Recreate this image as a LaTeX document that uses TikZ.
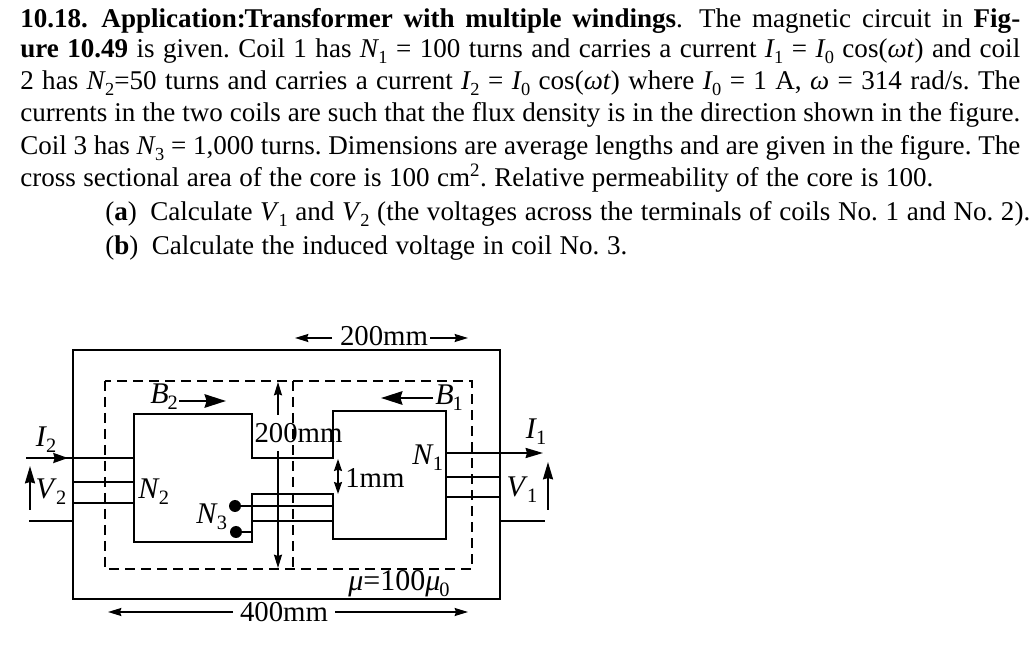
\documentclass[tikz,border=0pt]{standalone}
\usepackage{fontspec}
\usepackage{graphicx}
\setmainfont{Liberation Serif}
\usetikzlibrary{arrows.meta}
\newcommand\dn[1]{\kern-0.03em\raisebox{-0.2em}{\scalebox{0.68}{#1}}}
\newcommand\vr[2]{\textit{#1}\dn{#2}}
\newcommand\tline[5]{\node[para,anchor=base west] (#1) at (#2,#3) {\frenchspacing\makebox[\dimexpr #4pt*3/4\relax][s]{#5}};}
\tikzset{
  core/.style={line width=1.7pt,line join=miter},
  wire/.style={line width=1.6pt},
  thinwire/.style={line width=1.4pt},
  flux/.style={line width=1.4pt,dash pattern=on 7.5pt off 4.5pt},
  dim/.style={line width=1.2pt,-{Stealth[length=10pt,width=6pt,inset=1pt]}},
  bigarrow/.style={line width=2pt,-{Stealth[length=16pt,width=10pt,inset=1.5pt]}},
  vltarrow/.style={line width=1.5pt,-{Stealth[length=13pt,width=7.5pt,inset=1pt]}},
  para/.style={inner sep=0pt,font=\fontsize{20.3}{22}\selectfont},
  lab/.style={inner sep=0pt,font=\fontsize{22.5}{24}\selectfont},
  dimlab/.style={inner sep=0pt,font=\fontsize{21.6}{24}\selectfont},
  dot/.style={circle,fill=black,inner sep=0pt,minimum size=9pt}
}
\begin{document}
\begin{tikzpicture}[x=0.75pt,y=-0.75pt]
\useasboundingbox (0,0) rectangle (1036,666);
\tline{l1}{20}{28}{1000}{\textbf{10.18.\hspace{0.5em}Application:\kern-1pt Transformer with multiple windings}.\hspace{0.6em}The magnetic circuit in \textbf{Fig-}}
\tline{l2}{20}{58}{1000}{\textbf{ure 10.49} is given. Coil 1 has \vr{N}{1} = 100 turns and carries a current \vr{I}{1} = \vr{I}{0} cos(\textit{ωt}) and coil}
\tline{l3}{20}{90}{1000}{2 has \vr{N}{2}=50 turns and carries a current \vr{I}{2} = \vr{I}{0} cos(\textit{ωt}) where \vr{I}{0} = 1 A, \textit{ω} = 314 rad/s. The}
\tline{l4}{20}{122}{1000}{currents in the two coils are such that the flux density is in the direction shown in the figure.}
\tline{l5}{20}{155}{1000}{Coil 3 has \vr{N}{3} = 1,000 turns. Dimensions are average lengths and are given in the figure. The}
\tline{l6}{20}{187}{913}{cross sectional area of the core is 100 cm\textsuperscript{2}. Relative permeability of the core is 100.}
\tline{l7}{105}{221}{925}{(\textbf{a})\hspace{0.5em}Calculate \vr{V}{1} and \vr{V}{2} (the voltages across the terminals of coils No. 1 and No. 2).}
\tline{l8}{105}{255}{522}{(\textbf{b})\hspace{0.5em}Calculate the induced voltage in coil No. 3.}

% core
\draw[core] (73,350) rectangle (500,599);
\draw[core] (134,414) -- (252,414) -- (252,458) -- (333,458) -- (333,411) -- (446,411) -- (446,539) -- (333,539) -- (333,494) -- (252,494) -- (252,542) -- (134,542) -- cycle;
% flux paths
\draw[flux] (105,381) rectangle (472,569);
\draw[flux] (293,381) -- (293,569);

% left coil
\coordinate (i2s) at (26,458);
\coordinate (i2e) at (134,458);
\draw[wire] (i2s) -- (i2e);
\draw[wire,-{Stealth[length=11pt,width=7.5pt,inset=1pt]}] (i2s) -- (68,458);
\draw[thinwire] (73,482) -- (134,482);
\draw[thinwire] (73,503) -- (134,503);
\draw[thinwire] (29,521) -- (73,521);
\draw[vltarrow] (30,510) -- (30,466);

% right coil
\draw[wire,-{Stealth[length=13pt,width=7.5pt,inset=1pt]}] (446,453) -- (543,453);
\draw[thinwire] (446,477) -- (500,477);
\draw[thinwire] (446,497) -- (500,497);
\draw[thinwire] (500,521) -- (545,521);
\draw[vltarrow] (548,510) -- (548,462);

% third coil
\node[dot] (d1) at (235,506) {};
\node[dot] (d2) at (236,532) {};
\draw[thinwire] (d1) -- (333,506);
\draw[thinwire] (d2) -- (252,532);
\draw[wire] (252,521) -- (333,521);

% vertical dimension
\node[dimlab] (dimv) at (298.5,433) {200mm};
\draw[dim] (278,415) -- (278,382);
\draw[dim] (278,451) -- (278,568);

% gap
\node[dimlab,anchor=west] (gap) at (345,478) {1mm};
\draw[line width=1.2pt,{Stealth[length=9pt,width=6pt,inset=1pt]}-{Stealth[length=9pt,width=6pt,inset=1pt]}] (338,459) -- (338,494);

% top dimension
\node[dimlab] (dimt) at (384,336) {200mm};
\draw[dim] (332,338) -- (295,338);
\draw[dim] (430,338) -- (468,338);

% bottom dimension
\node[dimlab] (dimb) at (284,612) {400mm};
\draw[dim] (233,612) -- (108,612);
\draw[dim] (335,612) -- (468,612);

% flux arrows
\node[lab,anchor=west] (b2) at (150,397) {\vr{B}{2}};
\draw[bigarrow] (179,401) -- (226,401);
\node[lab,anchor=west] (b1) at (435,398) {\vr{B}{1}};
\draw[bigarrow] (433,398) -- (381,398);

% labels
\node[lab,anchor=west] (n1) at (412,458) {\vr{N}{1}};
\node[lab,anchor=west] (n2) at (138,492) {\vr{N}{2}};
\node[lab,anchor=west] (n3) at (196,517) {\vr{N}{3}};
\node[lab] (i2) at (46,440) {\vr{I}{2}};
\node[lab] (v2) at (51,492) {\vr{V}{2}};
\node[lab] (i1) at (536,432) {\vr{I}{1}};
\node[lab] (v1) at (522,490) {\vr{V}{1}};
\node[lab] (mu) at (399,584) {\textit{μ}=100\vr{μ}{0}};
\end{tikzpicture}
\end{document}
